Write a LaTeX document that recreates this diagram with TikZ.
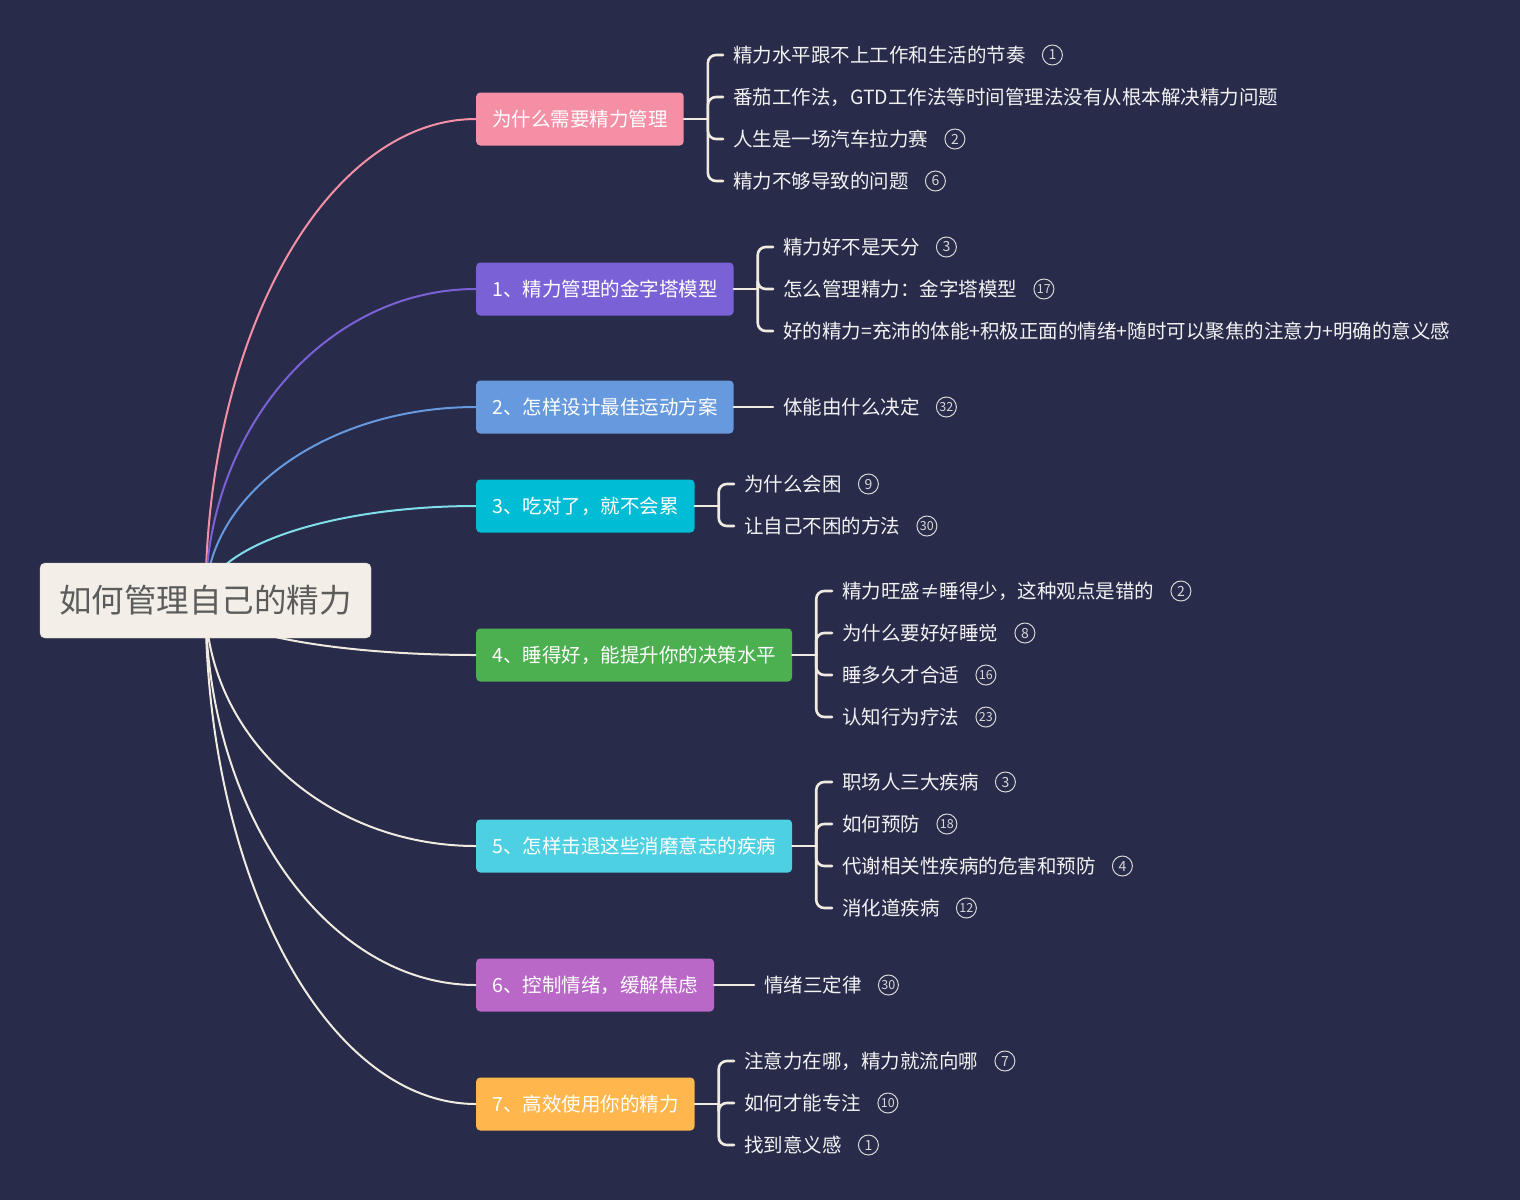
\documentclass[tikz,border=0pt]{standalone}
\usepackage{fontspec}
\setmainfont{Noto Sans CJK SC}
\usepackage{tikz}
\usetikzlibrary{positioning, calc}
\definecolor{mapbg}{RGB}{41, 43, 74}
\definecolor{mappink}{RGB}{244, 143, 166}
\definecolor{mappurple}{RGB}{123, 97, 214}
\definecolor{mapblue}{RGB}{102, 153, 221}
\definecolor{mapcyan}{RGB}{0, 188, 212}
\definecolor{mapcyanline}{RGB}{128, 222, 234}
\definecolor{mapgreen}{RGB}{76, 175, 80}
\definecolor{maplightcyan}{RGB}{77, 208, 225}
\definecolor{mapviolet}{RGB}{186, 104, 200}
\definecolor{maporange}{RGB}{255, 183, 77}
\definecolor{mapcream}{RGB}{240, 235, 225}
\definecolor{rootfill}{RGB}{243, 239, 232}
\definecolor{roottext}{RGB}{92, 92, 92}
\definecolor{leafwhite}{RGB}{242, 242, 242}
\definecolor{numgray}{RGB}{215, 215, 215}

\begin{document}
\begin{tikzpicture}[x=1pt, y=-1pt,
  rootbox/.style={fill=rootfill, draw=rootfill!80!gray, rounded corners=5pt, minimum width=331pt, minimum height=75pt, text=roottext, font=\fontsize{32.5}{36}\selectfont},
  topic/.style={rounded corners=4pt, minimum height=53pt, inner xsep=16pt, text=white, anchor=west, font=\fontsize{19.5}{23}\selectfont},
  leaf/.style={inner xsep=10pt, text=leafwhite, anchor=west, font=\fontsize{19.5}{23}\selectfont},
  num/.style={circle, draw=numgray, line width=1pt, minimum size=20pt, inner sep=0pt, text=numgray, font=\fontsize{14}{14}\selectfont},
  numtwo/.style={num, font=\fontsize{12.5}{12.5}\selectfont},
  trunk/.style={line width=2pt},
  brace/.style={draw=mapcream, line width=2.6pt, rounded corners=8pt, line cap=round}]

  % background and page size
  \fill[mapbg] (0,0) rectangle (1520,1200);
  \useasboundingbox (0,0) rectangle (1520,1200);

  % main topics
  \node[topic, fill=mappink] (b0) at (476,119) {为什么需要精力管理};
  \node[topic, fill=mappurple] (b1) at (476,289) {1、精力管理的金字塔模型};
  \node[topic, fill=mapblue] (b2) at (476,407) {2、怎样设计最佳运动方案};
  \node[topic, fill=mapcyan] (b3) at (476,506) {3、吃对了，就不会累};
  \node[topic, fill=mapgreen] (b4) at (476,655) {4、睡得好，能提升你的决策水平};
  \node[topic, fill=maplightcyan] (b5) at (476,846) {5、怎样击退这些消磨意志的疾病};
  \node[topic, fill=mapviolet] (b6) at (476,985) {6、控制情绪，缓解焦虑};
  \node[topic, fill=maporange] (b7) at (476,1104) {7、高效使用你的精力};

  % root (curves first, box on top)
  \coordinate (rc) at (205.5,600.5);
  \draw[trunk, mappink] (rc) .. controls +(0,-265) and +(-149,0) .. (b0.west);
  \draw[trunk, mappurple] (rc) .. controls +(0,-172) and +(-149,0) .. (b1.west);
  \draw[trunk, mapblue] (rc) .. controls +(0,-106) and +(-149,0) .. (b2.west);
  \draw[trunk, mapcyanline] (rc) .. controls +(0,-52) and +(-149,0) .. (b3.west);
  \draw[trunk, mapcream] (rc) .. controls +(0,30) and +(-149,0) .. (b4.west);
  \draw[trunk, mapcream] (rc) .. controls +(0,136) and +(-149,0) .. (b5.west);
  \draw[trunk, mapcream] (rc) .. controls +(0,212) and +(-149,0) .. (b6.west);
  \draw[trunk, mapcream] (rc) .. controls +(0,278) and +(-149,0) .. (b7.west);
  \node[rootbox] (root) at (rc) {如何管理自己的精力};

  % subtopics
  \node[leaf] (l01) at (723,55) {精力水平跟不上工作和生活的节奏};
  \node[leaf] (l02) at (723,97) {番茄工作法，GTD工作法等时间管理法没有从根本解决精力问题};
  \node[leaf] (l03) at (723,139) {人生是一场汽车拉力赛};
  \node[leaf] (l04) at (723,181) {精力不够导致的问题};
  \node[num, right=6pt of l01] (n01) {1};
  \node[num, right=6pt of l03] (n03) {2};
  \node[num, right=6pt of l04] (n04) {6};

  \node[leaf] (l11) at (773,247) {精力好不是天分};
  \node[leaf] (l12) at (773,289) {怎么管理精力：金字塔模型};
  \node[leaf] (l13) at (773,331) {好的精力=充沛的体能+积极正面的情绪+随时可以聚焦的注意力+明确的意义感};
  \node[num, right=6pt of l11] (n11) {3};
  \node[numtwo, right=6pt of l12] (n12) {17};

  \node[leaf] (l21) at (773,407) {体能由什么决定};
  \node[numtwo, right=6pt of l21] (n21) {32};

  \node[leaf] (l31) at (734,484) {为什么会困};
  \node[leaf] (l32) at (734,526) {让自己不困的方法};
  \node[num, right=6pt of l31] (n31) {9};
  \node[numtwo, right=6pt of l32] (n32) {30};

  \node[leaf] (l41) at (832,591) {精力旺盛≠睡得少，这种观点是错的};
  \node[leaf] (l42) at (832,633) {为什么要好好睡觉};
  \node[leaf] (l43) at (832,675) {睡多久才合适};
  \node[leaf] (l44) at (832,717) {认知行为疗法};
  \node[num, right=6pt of l41] (n41) {2};
  \node[num, right=6pt of l42] (n42) {8};
  \node[numtwo, right=6pt of l43] (n43) {16};
  \node[numtwo, right=6pt of l44] (n44) {23};

  \node[leaf] (l51) at (832,782) {职场人三大疾病};
  \node[leaf] (l52) at (832,824) {如何预防};
  \node[leaf] (l53) at (832,866) {代谢相关性疾病的危害和预防};
  \node[leaf] (l54) at (832,908) {消化道疾病};
  \node[num, right=6pt of l51] (n51) {3};
  \node[numtwo, right=6pt of l52] (n52) {18};
  \node[num, right=6pt of l53] (n53) {4};
  \node[numtwo, right=6pt of l54] (n54) {12};

  \node[leaf] (l61) at (754,985) {情绪三定律};
  \node[numtwo, right=6pt of l61] (n61) {30};

  \node[leaf] (l71) at (734,1061) {注意力在哪，精力就流向哪};
  \node[leaf] (l72) at (734,1103) {如何才能专注};
  \node[leaf] (l73) at (734,1145) {找到意义感};
  \node[num, right=6pt of l71] (n71) {7};
  \node[numtwo, right=6pt of l72] (n72) {10};
  \node[num, right=6pt of l73] (n73) {1};

  % braces
  \draw[brace] (b0.east) -- ++(24,0) coordinate (v0);
  \foreach \l in {l01,l02,l03,l04} \draw[brace] (v0) |- (\l.west);
  \draw[brace] (b1.east) -- ++(24,0) coordinate (v1);
  \foreach \l in {l11,l12,l13} \draw[brace] (v1) |- (\l.west);
  \draw[brace] (b2.east) -- (l21.west);
  \draw[brace] (b3.east) -- ++(24,0) coordinate (v3);
  \foreach \l in {l31,l32} \draw[brace] (v3) |- (\l.west);
  \draw[brace] (b4.east) -- ++(24,0) coordinate (v4);
  \foreach \l in {l41,l42,l43,l44} \draw[brace] (v4) |- (\l.west);
  \draw[brace] (b5.east) -- ++(24,0) coordinate (v5);
  \foreach \l in {l51,l52,l53,l54} \draw[brace] (v5) |- (\l.west);
  \draw[brace] (b6.east) -- (l61.west);
  \draw[brace] (b7.east) -- ++(24,0) coordinate (v7);
  \foreach \l in {l71,l72,l73} \draw[brace] (v7) |- (\l.west);
\end{tikzpicture}
\end{document}
